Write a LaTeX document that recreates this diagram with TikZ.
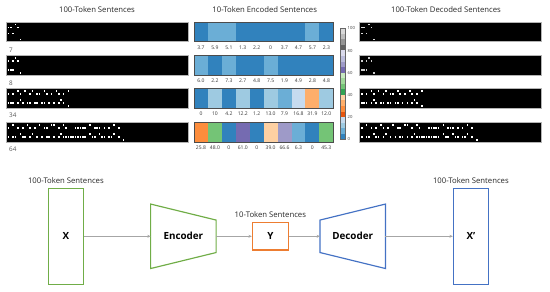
\documentclass[tikz,border=0pt]{standalone}
\usepackage{fontspec}
\setmainfont{Open Sans}
\usepackage{xcolor}
\usetikzlibrary{arrows.meta, positioning}

\definecolor{xgreen}{HTML}{70AD47}
\definecolor{yorange}{HTML}{ED7D31}
\definecolor{xblue}{HTML}{4472C4}
\definecolor{arrowgray}{HTML}{A6A6A6}
\definecolor{bargray}{HTML}{B4B4B4}
% tab20c, one colour per 5 units
\definecolor{tc0}{HTML}{3182BD}  \definecolor{tc1}{HTML}{6BAED6}
\definecolor{tc2}{HTML}{9ECAE1}  \definecolor{tc3}{HTML}{C6DBEF}
\definecolor{tc4}{HTML}{E6550D}  \definecolor{tc5}{HTML}{FD8D3C}
\definecolor{tc6}{HTML}{FDAE6B}  \definecolor{tc7}{HTML}{FDD0A2}
\definecolor{tc8}{HTML}{31A354}  \definecolor{tc9}{HTML}{74C476}
\definecolor{tc10}{HTML}{A1D99B} \definecolor{tc11}{HTML}{C7E9C0}
\definecolor{tc12}{HTML}{756BB1} \definecolor{tc13}{HTML}{9E9AC8}
\definecolor{tc14}{HTML}{BCBDDC} \definecolor{tc15}{HTML}{DADAEB}
\definecolor{tc16}{HTML}{636363} \definecolor{tc17}{HTML}{969696}
\definecolor{tc18}{HTML}{BDBDBD} \definecolor{tc19}{HTML}{D9D9D9}

% token positions (column/row) of the four sentences
\newcommand\dotsA{0/1,1/1,3/0,4/1,0/3,2/3,5/5}
\newcommand\dotsB{0/1,2/1,3/0,4/1,0/4,1/4,2/4,5/5}
\newcommand\dotsC{0/1,2/1,4/0,5/1,7/0,9/1,10/0,12/1,13/1,15/0,16/1,18/1,20/0,21/1,23/1,25/0,
  0/4,1/4,2/4,4/4,5/3,6/4,8/4,9/4,11/4,12/4,14/4,15/4,17/4,19/4,21/4,22/3,23/4,25/5}
\newcommand\dotsD{0/1,2/0,4/1,6/1,8/0,9/1,11/1,13/0,15/1,16/1,18/0,19/0,21/1,23/0,24/1,
  28/1,29/1,30/1,31/1,32/1,34/0,36/1,37/1,38/1,40/1,42/1,44/0,46/1,
  0/4,2/4,3/4,5/3,6/4,7/4,9/4,10/3,12/4,14/4,16/4,17/4,19/4,21/4,22/3,23/4,24/4,25/4,
  26/4,27/4,28/4,29/4,30/4,31/4,32/4,34/3,35/4,36/4,38/3,39/4,40/4,42/4,43/4,44/3,46/4,48/5}
% blurred tokens of the decoded short sentences
\newcommand\noiseA{1/0,2/0,5/0,6/1,3/2,7/2,8/3,3/4,9/4,12/4,10/1,14/3,18/4,22/3,6/4,11/2}
\newcommand\noiseB{1/0,2/2,4/2,6/1,1/4,3/4,4/4,6/4,8/4,10/4,9/2,12/5}

% one black sentence bar: left, top, token list, token colour
\newcommand\tokbar[4]{%
  \fill[black] (#1,#2) rectangle ++(182,19.5);
  \draw[bargray, line width=0.3pt] (#1,#2) rectangle ++(182,19.5);
  \foreach \dc/\dr in #3 {\fill[#4] ({#1+1.5+2.4*\dc},{#2+2+3*\dr}) rectangle ++(1.6,1.6);}
}

\begin{document}
\begin{tikzpicture}[x=0.3mm, y=-0.3mm]
    \tikzstyle{title} = [font=\fontsize{6.6}{8}\selectfont, text=black!85, inner sep=1pt]
    \tikzstyle{cnt} = [font=\fontsize{5.4}{6}\selectfont, text=black!65, anchor=west, inner sep=0pt]
    \tikzstyle{num} = [font=\fontsize{4.3}{5}\selectfont, text=black!80, inner sep=0pt]
    \tikzstyle{tick} = [font=\fontsize{3.6}{4}\selectfont, text=black!75, anchor=west, inner sep=0pt]
    \tikzstyle{xbox} = [rectangle, draw, fill=white, line width=1pt, minimum width=10.5mm,
        minimum height=28.8mm, font=\fontsize{8.4}{10}\selectfont\bfseries]
    \tikzstyle{ybox} = [rectangle, draw=yorange, fill=white, line width=1pt, minimum width=10.8mm,
        minimum height=8.25mm, font=\fontsize{8.4}{10}\selectfont\bfseries]
    \tikzstyle{coder} = [rectangle, inner sep=0pt, minimum width=19.5mm, minimum height=19.2mm,
        font=\fontsize{8.4}{10}\selectfont\bfseries]
    \tikzstyle{codeline} = [line width=1pt, line join=miter]
    \tikzstyle{arrow} = [draw=arrowgray, line width=0.6pt, -{Stealth[length=1mm, width=0.9mm]}]

    \useasboundingbox (0,0) rectangle (550,292);

    % upper half: the sentences
    \node (tin) [title] at (97,10) {100-Token Sentences};
    \node (tenc) [title] at (264.7,10) {10-Token Encoded Sentences};
    \node (tdec) [title] at (446,10) {100-Token Decoded Sentences};

    \tokbar{6}{21.7}{\dotsA}{white}
    \tokbar{6}{55.5}{\dotsB}{white}
    \tokbar{6}{88.5}{\dotsC}{white}
    \tokbar{6}{122.2}{\dotsD}{white}
    \node (n7) [cnt] at (9,50) {7};
    \node (n8) [cnt] at (9,83.3) {8};
    \node (n34) [cnt] at (9,115.5) {34};
    \node (n64) [cnt] at (9,149) {64};

    \tokbar{359.5}{21.7}{\noiseA}{black!45!white}
    \tokbar{359.5}{21.7}{\dotsA}{black!15!white}
    \tokbar{359.5}{55.5}{\noiseB}{black!40!white}
    \tokbar{359.5}{55.5}{\dotsB}{black!20!white}
    \tokbar{359.5}{88.5}{\dotsC}{white}
    \tokbar{359.5}{122.2}{\dotsD}{white}

    \foreach \y/\vals in {21.7/{3.7,5.9,5.1,1.3,2.2,0,3.7,4.7,5.7,2.3},
        55.3/{6.0,2.2,7.3,2.7,4.8,7.5,1.9,4.9,2.8,4.8},
        88.3/{0,10,4.2,12.2,1.2,13.0,7.9,16.8,31.9,12.0},
        122.2/{25.8,48.0,0,61.0,0,39.0,66.6,6.3,0,45.3}} {
        \foreach \v [count=\i from 0] in \vals {
            \pgfmathtruncatemacro\ci{min(19,int(\v/5))}
            \fill[tc\ci] ({194+13.93*\i},\y) rectangle ++(13.93,19.5);
            \node[num] at ({194+13.93*(\i+0.5)},{\y+25.7}) {\v};
        }
        \draw[black!70, line width=0.3pt] (194,\y) rectangle ++(139.3,19.5);
    }

    % colour bar
    \foreach \ci in {0,...,19}
        \fill[tc\ci] (340,{139.3-5.55*(\ci+1)}) rectangle (345,{139.3-5.55*\ci});
    \draw[black!60, line width=0.3pt] (340,28.3) rectangle (345,139.3);
    \foreach \t in {0,20,...,100} {
        \draw[black!60, line width=0.3pt] (345,{139.3-1.11*\t}) -- ++(1.3,0);
        \node[tick] at (347.5,{139.3-1.11*\t}) {\t};
    }

    % lower half: the model
    \node (x) [xbox, draw=xgreen] at (65.9,236.3) {X};
    \node (enc) [coder, right=20mm of x] {Encoder};
    \node (y) [ybox, right=10.7mm of enc] {Y};
    \node (dec) [coder, right=9.3mm of y] {Decoder};
    \node (xp) [xbox, draw=xblue, right=20.2mm of dec] {X’};

    \draw[codeline, draw=xgreen] (enc.north west) -- ([yshift=-4.8mm]enc.north east)
        -- ([yshift=4.8mm]enc.south east) -- (enc.south west) -- cycle;
    \draw[codeline, draw=xblue] ([yshift=-4.8mm]dec.north west) -- (dec.north east)
        -- (dec.south east) -- ([yshift=4.8mm]dec.south west) -- cycle;

    \node (lx) [title, above=0.8mm of x] {100-Token Sentences};
    \node (ly) [title, above=0.8mm of y] {10-Token Sentences};
    \node (lxp) [title, above=0.8mm of xp] {100-Token Sentences};

    \draw [arrow] (x) -- (enc);
    \draw [arrow] (enc) -- (y);
    \draw [arrow] (y) -- (dec);
    \draw [arrow] (dec) -- (xp);
\end{tikzpicture}
\end{document}
